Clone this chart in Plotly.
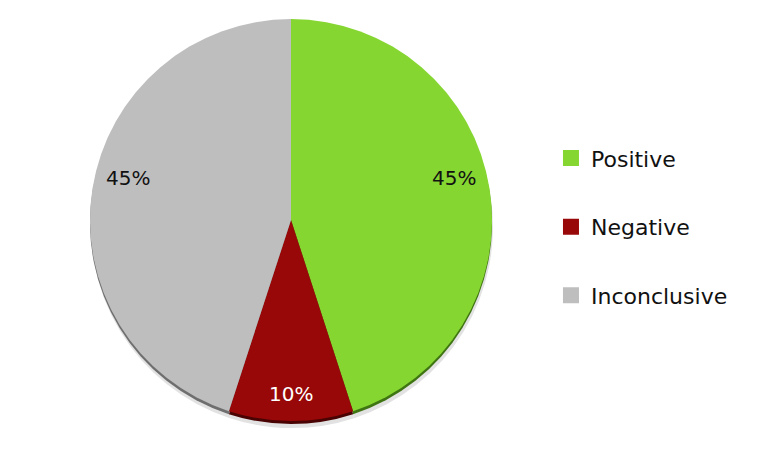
import math
import plotly.graph_objects as go

labels = ['Positive', 'Negative', 'Inconclusive']
values = [45, 10, 45]
colors = ['#86d631', '#990808', '#bebebe']
rim_colors = ['#3f7412', '#4a0303', '#6e6e6e']
text_colors = ['#111111', '#ffffff', '#111111']

W, H = 768, 451
# page body has an 8px margin, so the figure is drawn 8px right / 8px down
cx, cy, r = 283, 212, 201   # pie centre / radius in figure pixels (from top)


def dom(dx=0, dy=0):
    return dict(x=[(cx - r + dx) / W, (cx + r + dx) / W],
                y=[(H - cy - r - dy) / H, (H - cy + r - dy) / H])


fig = go.Figure()

# soft shadow + thin darker rim under the pie
fig.add_trace(go.Pie(
    labels=labels, values=values, sort=False, direction='clockwise',
    marker=dict(colors=['#e2e2e2'] * 3, line=dict(width=0)),
    textinfo='none', showlegend=False, hoverinfo='skip', domain=dom(1, 7),
))
fig.add_trace(go.Pie(
    labels=labels, values=values, sort=False, direction='clockwise',
    marker=dict(colors=rim_colors, line=dict(width=0)),
    textinfo='none', showlegend=False, hoverinfo='skip', domain=dom(0, 3),
))
fig.add_trace(go.Pie(
    labels=labels, values=values, sort=False, direction='clockwise',
    marker=dict(colors=colors, line=dict(width=0)),
    textinfo='none', showlegend=False, hoverinfo='label+percent', domain=dom(),
))

# percentage labels near the rim, at each slice's mid angle
total = sum(values)
start = 0
for v, tc in zip(values, text_colors):
    mid = (start + v / 2) / total * 2 * math.pi
    start += v
    lx = cx + 0.82 * r * math.sin(mid)
    ly = cy - 0.93 * r * math.cos(mid) - 13
    fig.add_annotation(x=lx / W, y=(H - ly) / H, xref='paper', yref='paper',
                       xanchor='center', yanchor='middle',
                       text=f'{round(v / total * 100)}%', showarrow=False,
                       font=dict(family='DejaVu Sans', size=20, color=tc))

# legend entries drawn by dummy traces so the items can be spaced apart
for lab, col in zip(labels, colors):
    fig.add_trace(go.Scatter(
        x=[None], y=[None], mode='markers', name=lab, legendgroup=lab,
        marker=dict(symbol='square', size=16, color=col),
    ))

fig.update_layout(
    width=W, height=H,
    margin=dict(l=0, r=0, t=0, b=0, autoexpand=False),
    paper_bgcolor='white', plot_bgcolor='white',
    xaxis=dict(visible=False), yaxis=dict(visible=False),
    legend=dict(x=0.707, y=0.515, xanchor='left', yanchor='middle',
                font=dict(family='DejaVu Sans', size=22, color='#111111'),
                tracegroupgap=37, itemwidth=30),
)

fig.write_html('out.html')
